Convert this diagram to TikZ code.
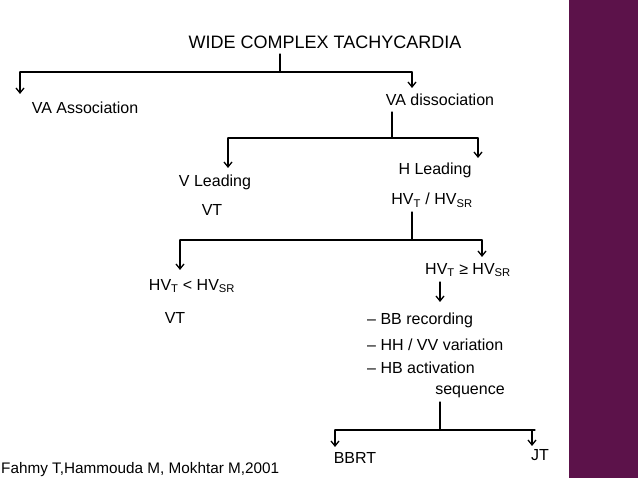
\documentclass[tikz,border=0pt]{standalone}
\usepackage{fontspec}
\setmainfont{Liberation Sans}
\usetikzlibrary{arrows.meta}
\definecolor{barc}{RGB}{92,18,74}
\begin{document}
\begin{tikzpicture}[x=1pt,y=-1pt,
  lbl/.style={font=\fontsize{16}{18}\selectfont, inner sep=1pt},
  ln/.style={line width=1.3pt, line cap=round},
  arr/.style={ln, -{Straight Barb[length=5pt,width=8pt]}}]
\useasboundingbox (0,0) rectangle (638,478);
\fill[white] (0,0) rectangle (569,478);
\fill[barc] (569,0) rectangle (638,478);
\node[lbl,font=\fontsize{18}{20}\selectfont] (title) at (325,42) {WIDE COMPLEX TACHYCARDIA};
\node[lbl] (vaa) at (85,108) {VA Association};
\node[lbl] (vad) at (440,100) {VA dissociation};
\node[lbl] (vl) at (215,182) {V Leading};
\node[lbl] (vt1) at (212,210) {VT};
\node[lbl] (hl) at (435,170) {H Leading};
\node[lbl] (hv) at (432,200) {HV\textsubscript{T} / HV\textsubscript{SR}};
\node[lbl] (lt) at (192,286) {HV\textsubscript{T} < HV\textsubscript{SR}};
\node[lbl] (vt2) at (175,318) {VT};
\node[lbl] (ge) at (468,270) {HV\textsubscript{T} ≥ HV\textsubscript{SR}};
\node[lbl,anchor=west] (l1) at (366,320) {– BB recording};
\node[lbl,anchor=west] (l2) at (366,345) {– HH / VV variation};
\node[lbl,anchor=west] (l3) at (366,368) {– HB activation};
\node[lbl] (l4) at (470,392) {sequence};
\node[lbl] (bbrt) at (355,458) {BBRT};
\node[lbl] (jt) at (540,455) {JT};
\node[anchor=south west,inner sep=0pt,font=\fontsize{15.3}{17}\selectfont] (ref) at (1,477) {Fahmy T,Hammouda M, Mokhtar M,2001};
\coordinate (t0) at (280,54);
\draw[ln] (t0) -- (280,72);
\draw[ln] (20,72) -- (412,72);
\draw[arr] (20,72) -- (20,94);
\draw[arr] (412,72) -- (412,88);
\draw[ln] (392,112) -- (392,138);
\draw[ln] (228,138) -- (478,138);
\draw[arr] (228,138) -- (228,168);
\draw[arr] (478,138) -- (478,158);
\draw[ln] (412,212) -- (412,240);
\draw[ln] (180,240) -- (482,240);
\draw[arr] (180,240) -- (180,270);
\draw[arr] (482,240) -- (482,257);
\draw[arr] (440,282) -- (440,302);
\draw[ln] (440,402) -- (440,430);
\draw[ln] (335,430) -- (535,430);
\draw[arr] (335,430) -- (335,447);
\draw[arr] (532,430) -- (532,446);
\end{tikzpicture}
\end{document}
